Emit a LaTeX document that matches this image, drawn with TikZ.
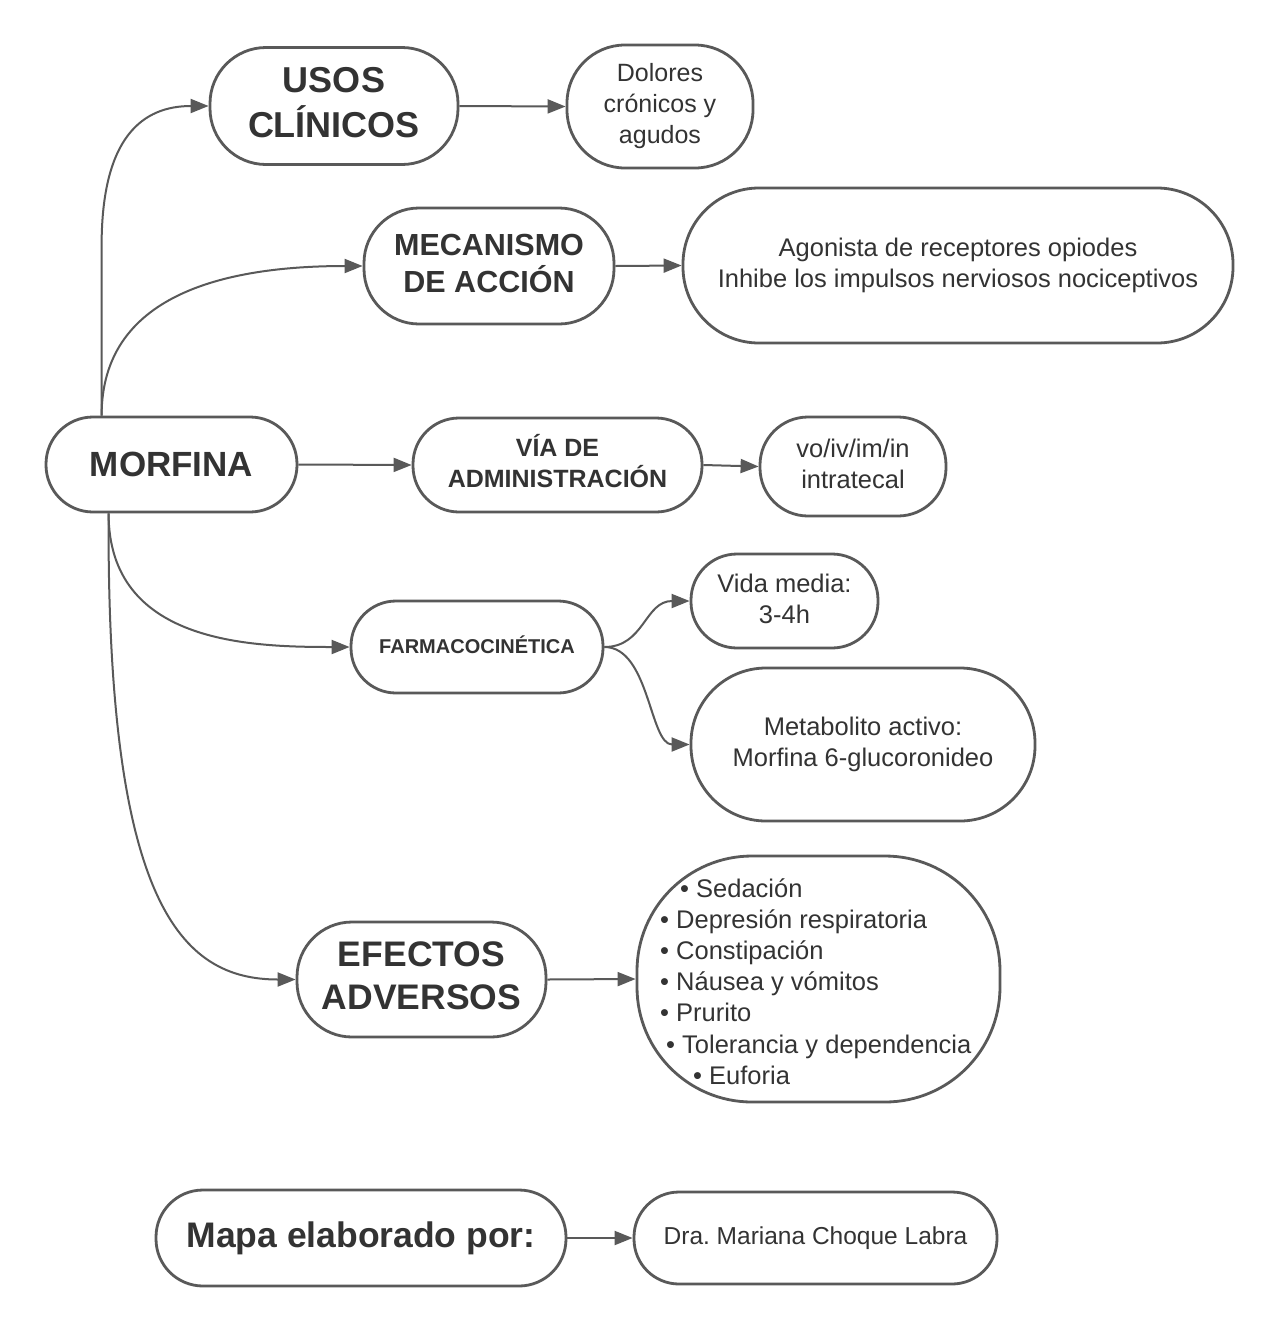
\documentclass[tikz,border=0pt]{standalone}
\usepackage{fontspec}
\setmainfont{Liberation Sans}
\usetikzlibrary{arrows.meta}
\definecolor{tc}{HTML}{333333}
\definecolor{lc}{HTML}{595959}
\tikzset{
  mybox/.style={draw=lc, line width=2.8pt, fill=white, align=center, text=tc, inner sep=0pt},
  edge/.style={draw=lc, line width=2pt, -{Triangle[length=18pt,width=14pt]}},
}
\newcommand{\fb}[2]{\fontsize{#1}{#2}\selectfont\bfseries}
\newcommand{\fr}[2]{\fontsize{#1}{#2}\selectfont}
\frenchspacing
\begin{document}
\begin{tikzpicture}[x=1pt,y=-1pt]
\useasboundingbox[fill=white] (0,0) rectangle (1280,1334);

\node[mybox, minimum width=248, minimum height=117, rounded corners=56, font=\fb{36}{45}] (usos) at (334,106) {USOS\\CLÍNICOS\rule[-8pt]{0pt}{1pt}};
\node[mybox, minimum width=186, minimum height=123, rounded corners=58, font=\fr{25}{31}] (dolores) at (660,106.5) {Dolores\\crónicos y\\agudos};
\node[mybox, minimum width=250, minimum height=116, rounded corners=55, font=\fb{30.5}{37}] (mecan) at (489,266) {MECANISMO\\DE ACCIÓN\rule[-6pt]{0pt}{1pt}};
\node[mybox, minimum width=550, minimum height=155, rounded corners=76, font=\fr{25.5}{31}] (agon) at (958,265.5) {Agonista de receptores opiodes\\Inhibe los impulsos nerviosos nociceptivos\rule[-4pt]{0pt}{1pt}};
\node[mybox, minimum width=251, minimum height=95, rounded corners=47, font=\fb{35}{42}] (morf) at (171.5,464.5) {MORFINA};
\node[mybox, minimum width=289, minimum height=94, rounded corners=46, font=\fb{25}{31}] (via) at (557.5,465) {VÍA DE\\ADMINISTRACIÓN\rule[-8pt]{0pt}{1pt}};
\node[mybox, minimum width=186, minimum height=99, rounded corners=48, font=\fr{25.5}{31}] (vo) at (853,466.5) {vo/iv/im/in\\intratecal\rule[-5pt]{0pt}{1pt}};
\node[mybox, minimum width=252, minimum height=92, rounded corners=45, font=\fb{20}{24}] (farm) at (477,647) {FARMACOCINÉTICA\rule[-5pt]{0pt}{1pt}};
\node[mybox, minimum width=187, minimum height=94, rounded corners=46, font=\fr{25.5}{31}] (vida) at (784.5,601) {Vida media:\\3-4h\rule[-5pt]{0pt}{1pt}};
\node[mybox, minimum width=344, minimum height=153, rounded corners=75, font=\fr{25.5}{31}] (metab) at (863,744.5) {Metabolito activo:\\Morfina 6-glucoronideo};
\node[mybox, minimum width=249, minimum height=115, rounded corners=55, font=\fb{35.5}{43}] (efectos) at (421.5,979.5) {EFECTOS\\ADVERSOS\rule[-8pt]{0pt}{1pt}};
\node[mybox, minimum width=363, minimum height=246, rounded corners=115] (lista) at (818.5,979) {};
\node[align=left, text=tc, inner sep=0pt, anchor=west, font=\fr{25.5}{31.2}] (listatext) at (660,981.5) {%
\hspace*{20pt}• Sedación\\
• Depresión respiratoria\\
• Constipación\\
• Náusea y vómitos\\
• Prurito\\
\hspace*{6pt}• Tolerancia y dependencia\\
\hspace*{33pt}• Euforia};
\node[mybox, minimum width=410, minimum height=96, rounded corners=47, font=\fb{35.5}{42}] (mapa) at (361,1238) {Mapa elaborado por:};
\node[mybox, minimum width=363, minimum height=92, rounded corners=45, font=\fr{24.5}{30}] (dra) at (815.5,1238) {Dra. Mariana Choque Labra};

% connectors
\draw[edge] ([xshift=57pt]morf.north west) -- ++(0,-170) .. controls ++(0,-110) and ++(-65,0) .. (usos.west);
\draw[edge] ([xshift=57pt]morf.north west) .. controls +(0,-120) and +(-140,0) .. (mecan.west);
\draw[edge] (usos.east) -- (dolores.west);
\draw[edge] (mecan.east) -- (agon.west);
\draw[edge] (morf.east) -- (via.west);
\draw[edge] (via.east) -- (vo.west);
\draw[edge] ([xshift=64pt]morf.south west) .. controls +(0,130) and +(-100,0) .. (farm.west);
\draw[edge] ([xshift=64pt]morf.south west) .. controls +(-2,390) and +(-115,0) .. (efectos.west);
\draw[edge] (farm.east) .. controls +(40,0) and +(-45,0) .. (vida.west);
\draw[edge] (farm.east) .. controls +(45,0) and +(-40,0) .. (metab.west);
\draw[edge] (efectos.east) -- (lista.west);
\draw[edge] (mapa.east) -- (dra.west);
\end{tikzpicture}
\end{document}
